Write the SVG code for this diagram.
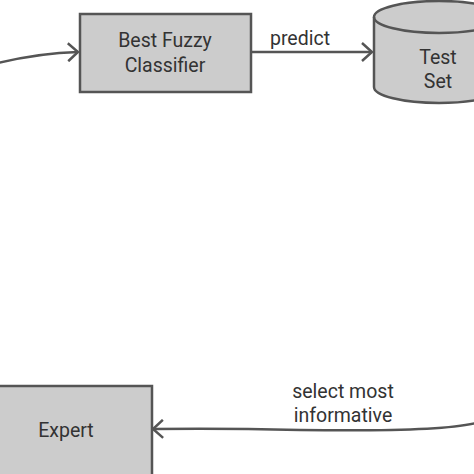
<svg xmlns="http://www.w3.org/2000/svg" width="474" height="474" viewBox="0 0 474 474">
<defs>
<style>
.node{fill:#cccccc;stroke:#555555;stroke-width:2.5}
.lbl{font-family:Roboto,"Liberation Sans",sans-serif;font-size:19.5px;fill:#333333;text-anchor:middle}
.edge{fill:none;stroke:#555555;stroke-width:2.5}
</style>
<marker id="arr" viewBox="0 0 12 20" refX="11" refY="10" markerWidth="12" markerHeight="20" markerUnits="userSpaceOnUse" orient="auto">
<path d="M1,1 L11,10 L1,19" fill="none" stroke="#555555" stroke-width="2.5"/>
</marker>
</defs>
<rect width="474" height="474" fill="#ffffff"/>
<g id="edges">
<path class="edge" d="M-2,63 Q40,53 78,52" marker-end="url(#arr)"/>
<path class="edge" d="M251,52 L372,52" marker-end="url(#arr)"/>
<text class="lbl" x="300" y="45">predict</text>
<path class="edge" d="M476,423 Q440,432 300,430 Q220,428 153,429" marker-end="url(#arr)"/>
<text class="lbl" x="343" y="398">select most</text>
<text class="lbl" x="343" y="422">informative</text>
</g>
<g id="best-fuzzy-classifier">
<rect class="node" x="80" y="14" width="171" height="78"/>
<text class="lbl" x="165" y="47">Best Fuzzy</text>
<text class="lbl" x="165" y="72">Classifier</text>
</g>
<g id="test-set">
<path class="node" d="M374,17 L374,87 A65,16 0 0 0 504,87 L504,17 A65,16 0 0 0 374,17 Z"/>
<path class="edge" d="M374,17 A65,16 0 0 0 504,17"/>
<text class="lbl" x="438" y="64">Test</text>
<text class="lbl" x="438" y="88">Set</text>
</g>
<g id="expert">
<rect class="node" x="-10" y="386" width="162" height="100"/>
<text class="lbl" x="66" y="437">Expert</text>
</g>
</svg>
